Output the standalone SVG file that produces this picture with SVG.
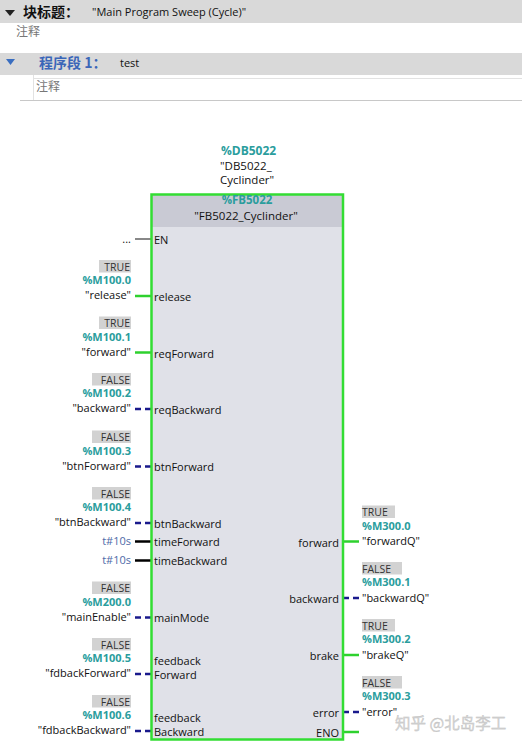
<svg xmlns="http://www.w3.org/2000/svg" width="522" height="746" viewBox="0 0 522 746">
<style>
text{font-family:"Open Sans","Noto Sans","DejaVu Sans",sans-serif;font-size:11px;fill:#111}
.cjk{font-family:"Noto Sans CJK SC",sans-serif}
.addr{fill:#2a9d9d;font-weight:bold;font-size:11px}
.val{fill:#333;font-size:10.5px}
.vb{fill:#d2d2d2}
.time{fill:#4e6aa8}
.e{text-anchor:end}
.m{text-anchor:middle}
.on{stroke:#2ed12e;stroke-width:2.5}
.off{stroke:#1a1a8c;stroke-width:2.5;stroke-dasharray:6 4}
.blk{stroke:#000;stroke-width:2.5}
.gry{stroke:#888;stroke-width:2}
</style>
<rect width="522" height="746" fill="#fff"/>
<g id="block-title">
<rect x="0" y="0" width="522" height="23" fill="#d9d9d9"/>
<path d="M5,10 L15,10 L10,16 Z" fill="#222"/>
<text x="23" y="17" class="cjk" style="font-size:14px;font-weight:bold">块标题：</text>
<text x="92" y="16">"Main Program Sweep (Cycle)"</text>
<text x="16" y="36" class="cjk" style="font-size:12px;fill:#777">注释</text>
</g>
<g id="network-title">
<rect x="0" y="53" width="522" height="22" fill="#d9d9d9"/>
<path d="M6,59 L15,59 L10.5,65 Z" fill="#3a6ec0"/>
<text x="39" y="68" class="cjk" style="font-size:14px;font-weight:bold;fill:#3b66b8">程序段 1：</text>
<text x="120" y="67">test</text>
<line x1="33" y1="78.5" x2="522" y2="78.5" stroke="#e2e2e2"/>
<line x1="33.5" y1="75" x2="33.5" y2="100" stroke="#e2e2e2"/>
<text x="36" y="91" class="cjk" style="font-size:12px;fill:#777">注释</text>
<line x1="20" y1="100.5" x2="522" y2="100.5" stroke="#c8c8c8"/>
</g>
<g id="instance-db">
<text x="221" y="155" class="addr" style="font-size:12px">%DB5022</text>
<text x="220" y="170" style="font-size:11.5px">"DB5022_</text>
<text x="220" y="184" style="font-size:11.5px">Cyclinder"</text>
</g>
<g id="connectors">
<line x1="135" y1="239" x2="151" y2="239" class="gry"/>
<line x1="135" y1="296" x2="151" y2="296" class="on"/>
<line x1="135" y1="352.5" x2="151" y2="352.5" class="on"/>
<line x1="135" y1="409" x2="151" y2="409" class="off"/>
<line x1="135" y1="466.5" x2="151" y2="466.5" class="off"/>
<line x1="135" y1="523" x2="151" y2="523" class="off"/>
<line x1="135" y1="541.5" x2="151" y2="541.5" class="blk"/>
<line x1="135" y1="560.5" x2="151" y2="560.5" class="blk"/>
<line x1="135" y1="617.5" x2="151" y2="617.5" class="off"/>
<line x1="135" y1="674" x2="151" y2="674" class="off"/>
<line x1="135" y1="731" x2="151" y2="731" class="off"/>
<line x1="343" y1="541.5" x2="359" y2="541.5" class="on"/>
<line x1="343" y1="598" x2="359" y2="598" class="off"/>
<line x1="343" y1="655" x2="359" y2="655" class="on"/>
<line x1="343" y1="712" x2="359" y2="712" class="off"/>
<line x1="343" y1="732" x2="359" y2="732" class="on"/>
</g>
<g id="fb-block">
<rect x="151.5" y="194.5" width="191.5" height="545" fill="#e0e1e8"/>
<rect x="151.5" y="194.5" width="191.5" height="32.5" fill="#c9cad4"/>
<rect x="151.5" y="194.5" width="191.5" height="545" fill="none" stroke="#33dd33" stroke-width="2.5"/>
<text x="247" y="204" class="addr m" style="font-size:11.5px">%FB5022</text>
<text x="246" y="220" class="m" style="font-size:11.5px">"FB5022_Cyclinder"</text>
<text x="154" y="244">EN</text>
<text x="154" y="301">release</text>
<text x="154" y="358">reqForward</text>
<text x="154" y="414">reqBackward</text>
<text x="154" y="471">btnForward</text>
<text x="154" y="528">btnBackward</text>
<text x="154" y="546">timeForward</text>
<text x="154" y="565">timeBackward</text>
<text x="154" y="622">mainMode</text>
<text x="154" y="665">feedback</text>
<text x="154" y="679">Forward</text>
<text x="154" y="722">feedback</text>
<text x="154" y="736">Backward</text>
<text x="339" y="547" class="e">forward</text>
<text x="339" y="603" class="e">backward</text>
<text x="339" y="660" class="e">brake</text>
<text x="339" y="717" class="e">error</text>
<text x="339" y="737" class="e">ENO</text>
</g>
<g id="in-en"><text x="131" y="243" class="e">...</text></g>
<g id="in-release">
<rect x="99" y="260" width="32" height="12.5" class="vb"/>
<text x="130" y="270.5" class="e val">TRUE</text>
<text x="131" y="284" class="e addr">%M100.0</text>
<text x="131" y="299" class="e">"release"</text>
</g>
<g id="in-reqForward">
<rect x="99" y="316.5" width="32" height="12.5" class="vb"/>
<text x="130" y="327" class="e val">TRUE</text>
<text x="131" y="340.5" class="e addr">%M100.1</text>
<text x="131" y="355.5" class="e">"forward"</text>
</g>
<g id="in-reqBackward">
<rect x="92" y="373" width="39" height="12.5" class="vb"/>
<text x="130" y="383.5" class="e val">FALSE</text>
<text x="131" y="397" class="e addr">%M100.2</text>
<text x="131" y="412" class="e">"backward"</text>
</g>
<g id="in-btnForward">
<rect x="92" y="430.5" width="39" height="12.5" class="vb"/>
<text x="130" y="441" class="e val">FALSE</text>
<text x="131" y="454.5" class="e addr">%M100.3</text>
<text x="131" y="469.5" class="e">"btnForward"</text>
</g>
<g id="in-btnBackward">
<rect x="92" y="487" width="39" height="12.5" class="vb"/>
<text x="130" y="497.5" class="e val">FALSE</text>
<text x="131" y="511" class="e addr">%M100.4</text>
<text x="131" y="526" class="e">"btnBackward"</text>
</g>
<g id="in-timeForward"><text x="131" y="545" class="e time">t#10s</text></g>
<g id="in-timeBackward"><text x="131" y="564" class="e time">t#10s</text></g>
<g id="in-mainMode">
<rect x="92" y="581.5" width="39" height="12.5" class="vb"/>
<text x="130" y="592" class="e val">FALSE</text>
<text x="131" y="605.5" class="e addr">%M200.0</text>
<text x="131" y="620.5" class="e">"mainEnable"</text>
</g>
<g id="in-feedbackForward">
<rect x="92" y="638" width="39" height="12.5" class="vb"/>
<text x="130" y="648.5" class="e val">FALSE</text>
<text x="131" y="662" class="e addr">%M100.5</text>
<text x="131" y="677" class="e">"fdbackForward"</text>
</g>
<g id="in-feedbackBackward">
<rect x="92" y="695" width="39" height="12.5" class="vb"/>
<text x="130" y="705.5" class="e val">FALSE</text>
<text x="131" y="719" class="e addr">%M100.6</text>
<text x="131" y="734" class="e">"fdbackBackward"</text>
</g>
<g id="out-forward">
<rect x="362" y="505.5" width="33" height="12.5" class="vb"/>
<text x="362" y="516" class="val">TRUE</text>
<text x="362" y="529.5" class="addr">%M300.0</text>
<text x="362" y="545">"forwardQ"</text>
</g>
<g id="out-backward">
<rect x="362" y="562" width="40" height="12.5" class="vb"/>
<text x="362" y="572.5" class="val">FALSE</text>
<text x="362" y="586" class="addr">%M300.1</text>
<text x="362" y="601.5">"backwardQ"</text>
</g>
<g id="out-brake">
<rect x="362" y="619" width="33" height="12.5" class="vb"/>
<text x="362" y="629.5" class="val">TRUE</text>
<text x="362" y="643" class="addr">%M300.2</text>
<text x="362" y="658.5">"brakeQ"</text>
</g>
<g id="out-error">
<rect x="362" y="676" width="40" height="12.5" class="vb"/>
<text x="362" y="686.5" class="val">FALSE</text>
<text x="362" y="700" class="addr">%M300.3</text>
<text x="362" y="715.5">"error"</text>
</g>
<g id="watermark">
<text x="395" y="729" class="cjk" style="font-size:15.5px;fill:#d4d4d4;stroke:#bdbdbd;stroke-width:0.3">知乎 @北岛李工</text>
</g>
</svg>
